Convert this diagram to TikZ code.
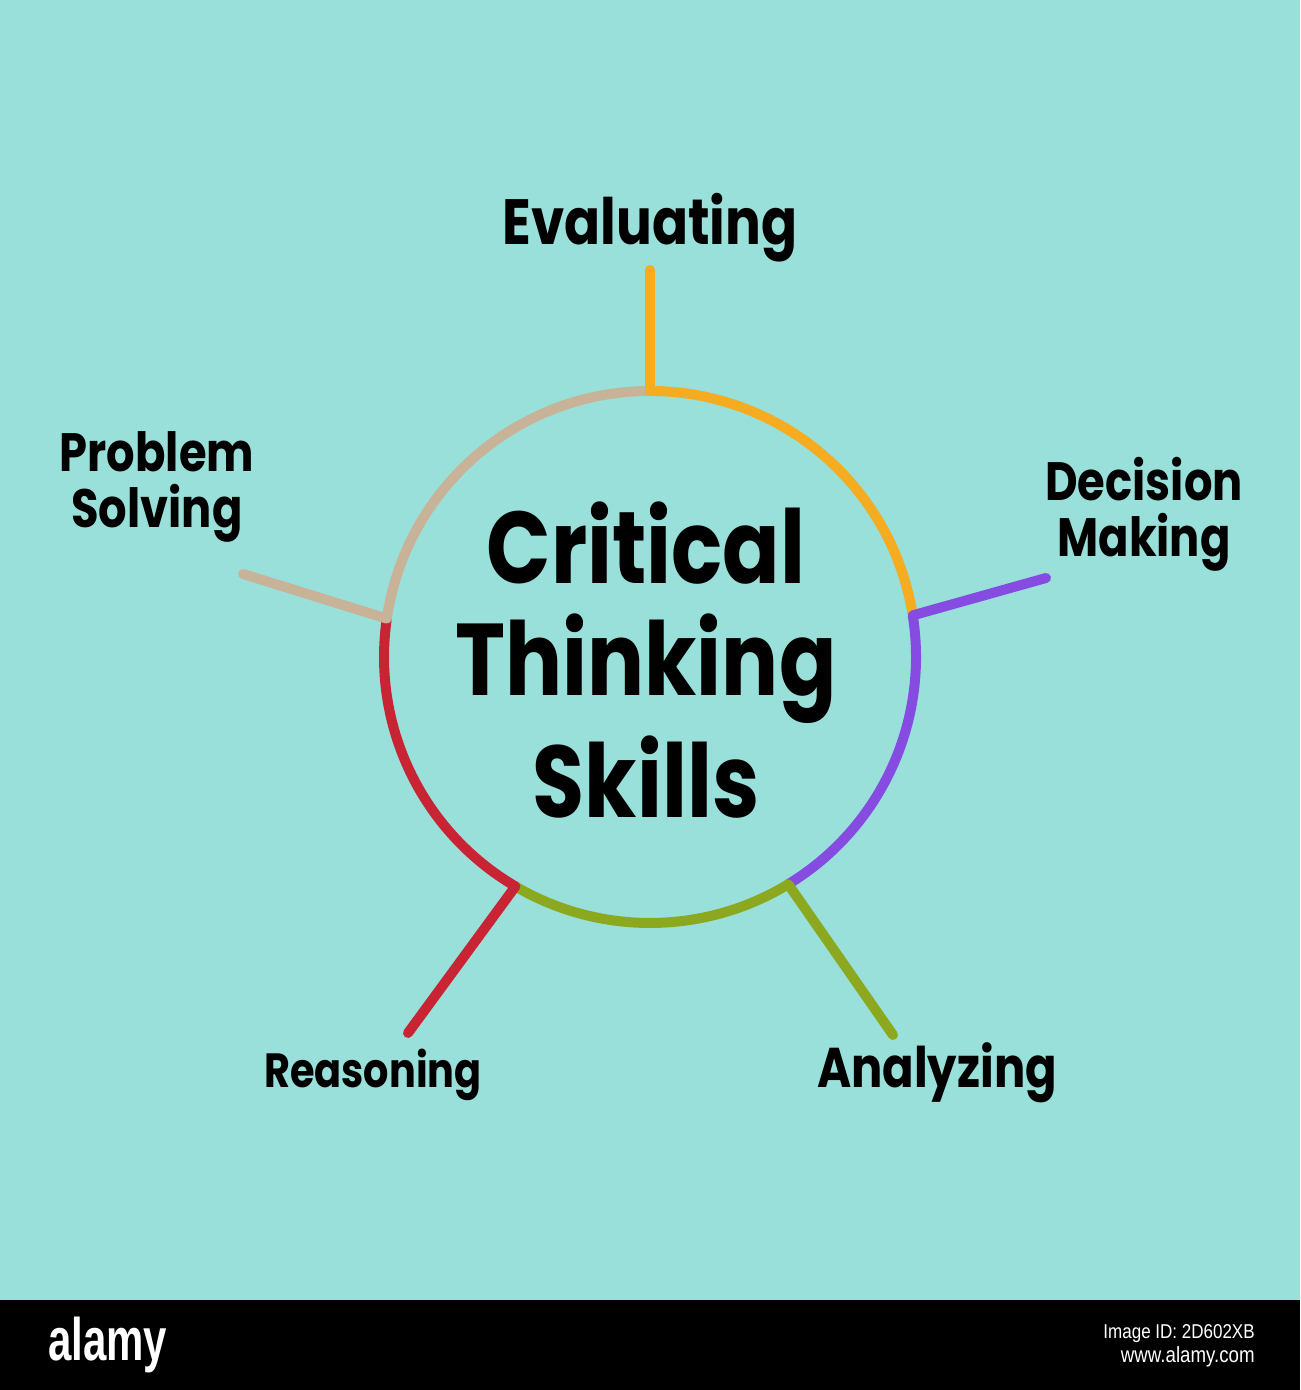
\documentclass[tikz,border=0pt]{standalone}
\usepackage{fontspec}
\setmainfont{Poppins}
\newfontfamily\logofont{Liberation Sans}
\definecolor{bgc}{RGB}{153,224,218}
\definecolor{corange}{RGB}{246,172,32}
\definecolor{cpurple}{RGB}{134,76,226}
\definecolor{cgreen}{RGB}{140,168,30}
\definecolor{cred}{RGB}{200,36,52}
\definecolor{ctan}{RGB}{200,178,152}
\begin{document}
\begin{tikzpicture}[x=0.5pt,y=0.5pt,
  seg/.style={line width=5pt},
  spoke/.style={line width=5pt, line cap=round},
  lab/.style={font=\bfseries\fontsize{#1}{#1}\selectfont, text=black, inner sep=0pt, align=center, xscale=0.83},
  lab/.default=27]
\fill[bgc] (0,0) rectangle (1300,1390);
\fill[black] (0,0) rectangle (1300,90);
\useasboundingbox (0,0) rectangle (1300,1390);
\coordinate (C) at (650,733);
\path (C) ++(90:266) coordinate (pE);
\path (C) ++(9:266) coordinate (pD);
\path (C) ++(-58.7:266) coordinate (pA);
\path (C) ++(-120.4:266) coordinate (pR);
\path (C) ++(171.7:266) coordinate (pP);
% arcs
\draw[seg, corange] (pE) arc[start angle=90, end angle=9, radius=266];
\draw[seg, cpurple] (pD) arc[start angle=9, end angle=-58.7, radius=266];
\draw[seg, cgreen] (pA) arc[start angle=-58.7, end angle=-120.4, radius=266];
\draw[seg, cred] (pR) arc[start angle=-120.4, end angle=-188.3, radius=266];
\draw[seg, ctan] (pP) arc[start angle=171.7, end angle=90, radius=266];
% spoke ends
\coordinate (eE) at (650,1120);
\coordinate (eD) at (1046,812);
\coordinate (eA) at (893,355);
\coordinate (eR) at (408,357);
\coordinate (eP) at (243,816);
\draw[spoke, corange] (pE) -- (eE);
\draw[spoke, cpurple] (pD) -- (eD);
\draw[spoke, cgreen] (pA) -- (eA);
\draw[spoke, cred] (pR) -- (eR);
\draw[spoke, ctan] (pP) -- (eP);
% labels
\node[lab=51] (hub) at (646,730) {Critical\\[5pt]Thinking\\[5pt]Skills};
\node[lab=32] (tE) at (650,1162) {Evaluating};
\node[lab=27] (tD) at (1144,876) {Decision\\[1pt]Making};
\node[lab=27] (tP) at (157,903) {Problem\\[1pt]Solving};
\node[lab=28] (tA) at (937,317) {Analyzing};
\node[lab=24] (tR) at (373,315) {Reasoning};
% footer
\node[font=\logofont\bfseries\fontsize{30}{30}\selectfont, text=white, anchor=west, inner sep=0pt, xscale=0.7] (logo) at (48,45) {alamy};
\node[font=\logofont\fontsize{10}{10}\selectfont, text=white, anchor=east, inner sep=0pt, xscale=0.85] (imgid) at (1255,56) {Image ID: 2D602XB};
\node[font=\logofont\fontsize{11}{11}\selectfont, text=white, anchor=east, inner sep=0pt, xscale=0.85] (www) at (1255,33) {www.alamy.com};
\end{tikzpicture}
\end{document}
